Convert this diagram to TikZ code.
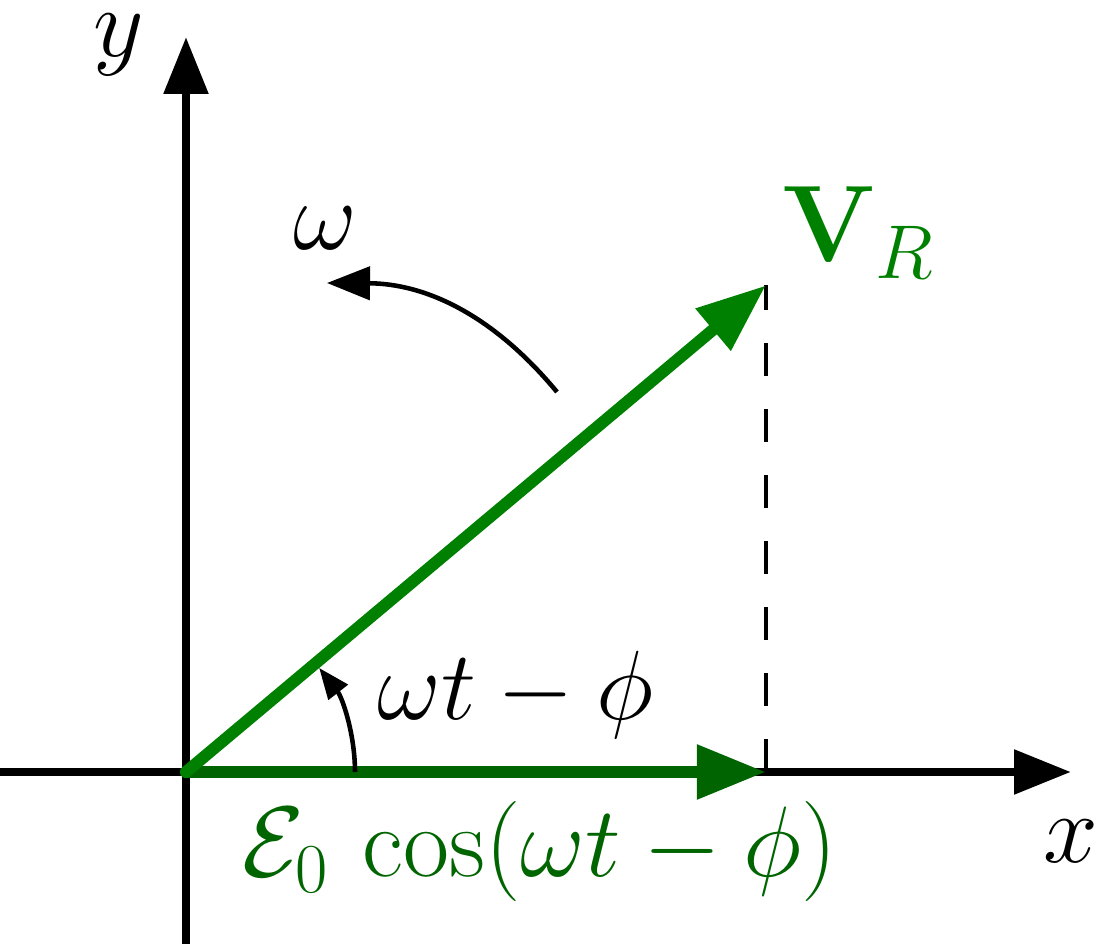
\RequirePackage{fix-cm}
\documentclass[tikz,border=0pt]{standalone}
\usepackage{amsmath}
\usepackage{amssymb}
\usepackage{tikz}
\usepackage{xcolor}
\usetikzlibrary{arrows.meta}

\definecolor{phasorgreen}{RGB}{0,128,0}
\definecolor{projgreen}{RGB}{0,100,0}

\begin{document}
\begin{tikzpicture}[
    every node/.style={font=\fontsize{28}{34}\selectfont, inner sep=0pt},
    axis/.style={line width=2.5pt, -{Stealth[inset=0pt, length=5.7mm, width=4.3mm]}},
    phasor/.style={line width=3.4pt, line cap=round, -{Stealth[inset=0pt, length=6.9mm, width=5.2mm]}},
    turn/.style={line width=1.3pt, -{Stealth[inset=0pt, length=4.3mm, width=3.3mm]}}
]
\useasboundingbox (-1.86,-1.72) rectangle (9.13,7.72);

\coordinate (O) at (0,0);
\coordinate (xl) at (-1.86,0);
\coordinate (xr) at (8.85,0);
\coordinate (yb) at (0,-1.72);
\coordinate (yt) at (0,7.35);
\coordinate (V) at (40:7.57);
\coordinate (Vx) at (V |- O);
\coordinate (a0) at (1.69,0);
\coordinate (ws) at (3.71,3.80);
\coordinate (we) at (1.41,4.89);

\draw[axis] (xl) -- (xr);
\draw[axis] (yb) -- (yt);

\draw[dashed, line width=1.3pt, dash pattern=on 3.3mm off 3.3mm] (Vx) -- (V);

\draw[phasor, projgreen] (O) -- (Vx);
\draw[phasor, phasorgreen] (O) -- (V);

\draw[turn, -{Stealth[inset=0pt, length=3.1mm, width=2.4mm]}] (a0) arc (0:38:1.69);
\draw[turn] (ws) to[bend right=25] (we);

\node (ylab) at (-0.93,7.15) [anchor=base west] {$y$};
\node (xlab) at (8.57,-0.91) [anchor=base west] {$x$};
\node (wlab) at (1.07,5.22) [anchor=base west] {$\omega$};
\node (vlab) at (5.96,5.10) [anchor=base west, phasorgreen, font=\fontsize{31}{37}\selectfont] {$\mathbf{V}_R$};
\node (alab) at (1.91,0.52) [anchor=base west] {$\omega t-\phi$};
\node (plab) at (0.56,-1.05) [anchor=base west, projgreen, font=\fontsize{28.5}{34}\selectfont] {$\mathcal{E}_0\,\cos(\omega t-\phi)$};
\end{tikzpicture}
\end{document}
